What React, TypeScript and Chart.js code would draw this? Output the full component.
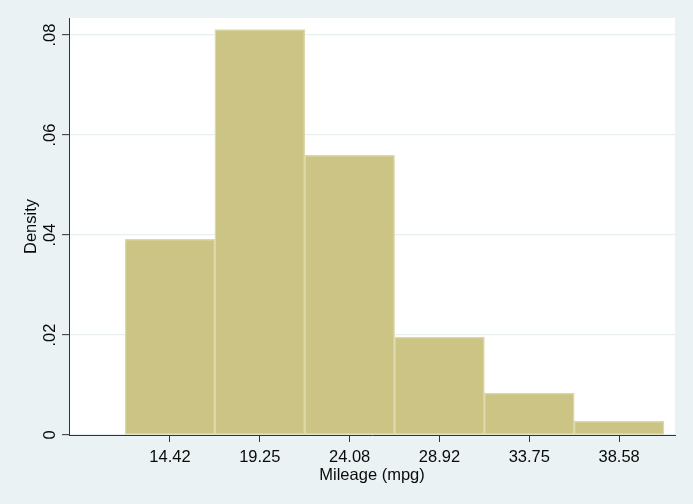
import React, { useEffect, useRef } from "react";
import { Chart, registerables } from "chart.js";

Chart.register(...registerables);

const binCenters = [14.4167, 19.25, 24.0833, 28.9167, 33.75, 38.5833];
const densities = [0.03914, 0.08108, 0.05592, 0.01957, 0.00839, 0.0028];
const xTickLabels = ["14.42", "19.25", "24.08", "28.92", "33.75", "38.58"];
const yTickValues = [0, 0.02, 0.04, 0.06, 0.08];
const yTickLabels = ["0", ".02", ".04", ".06", ".08"];
const xTitle = "Mileage (mpg)";
const yTitle = "Density";

const FONT = "'Liberation Sans', Arial, sans-serif";

const plotBg = {
  id: "plotBg",
  beforeDraw(chart: any) {
    const { ctx, chartArea } = chart;
    ctx.save();
    ctx.fillStyle = "#ffffff";
    ctx.fillRect(chartArea.left, chartArea.top, chartArea.right - chartArea.left, chartArea.bottom - chartArea.top);
    ctx.restore();
  },
};

export default function App() {
  const ref = useRef<HTMLCanvasElement | null>(null);
  useEffect(() => {
    if (!ref.current) return;
    const chart = new Chart(ref.current, {
      type: "bar",
      data: {
        datasets: [
          {
            data: binCenters.map((x, i) => ({ x, y: densities[i] })),
            backgroundColor: "#CBC484",
            borderColor: "#DCD8A9",
            borderWidth: 1.5,
            borderSkipped: false,
            barPercentage: 1,
            categoryPercentage: 1,
          },
        ],
      },
      options: {
        animation: false,
        responsive: true,
        maintainAspectRatio: false,
        layout: { padding: { top: 18, right: 18, left: 0, bottom: 0 } },
        plugins: { legend: { display: false }, tooltip: { enabled: false } },
        scales: {
          x: {
            type: "linear",
            min: 8.985,
            max: 41.59,
            offset: false,
            afterFit(scale: any) {
              scale.height = 69;
            },
            afterBuildTicks(scale: any) {
              scale.ticks = binCenters.map((v) => ({ value: v }));
            },
            grid: {
              offset: false,
              drawOnChartArea: false,
              drawTicks: true,
              tickLength: 7,
              tickColor: "#333333",
              tickWidth: 1,
            },
            border: { display: true, color: "#333333", width: 1 },
            ticks: {
              autoSkip: false,
              maxRotation: 0,
              minRotation: 0,
              padding: 5.5,
              color: "#0a0a0a",
              font: { family: FONT, size: 16.5 },
              callback: (_v: any, i: number) => xTickLabels[i],
            },
            title: {
              display: true,
              text: xTitle,
              color: "#0a0a0a",
              font: { family: FONT, size: 16.5 },
              padding: { top: 0, bottom: 19 },
            },
          },
          y: {
            type: "linear",
            min: 0,
            max: 0.0834,
            afterFit(scale: any) {
              scale.width = 69;
            },
            afterBuildTicks(scale: any) {
              scale.ticks = yTickValues.map((v) => ({ value: v }));
            },
            grid: {
              drawOnChartArea: true,
              color: "#E7EFF1",
              lineWidth: 1.3,
              drawTicks: true,
              tickLength: 7,
              tickColor: "#333333",
              tickWidth: 1,
            },
            border: { display: true, color: "#333333", width: 1 },
            ticks: {
              minRotation: 90,
              maxRotation: 90,
              crossAlign: "center",
              padding: 0,
              color: "#0a0a0a",
              font: { family: FONT, size: 16.5 },
              callback: (_v: any, i: number) => yTickLabels[i],
            },
            title: {
              display: true,
              text: yTitle,
              color: "#0a0a0a",
              font: { family: FONT, size: 16.5 },
              padding: { top: 21.5, bottom: 0 },
            },
          },
        },
      },
      plugins: [plotBg],
    });
    return () => chart.destroy();
  }, []);
  return (
    <div
      style={{
        position: "fixed",
        left: 0,
        top: 0,
        width: 693,
        height: 504,
        background: "#EAF2F3",
      }}
    >
      <canvas ref={ref} />
    </div>
  );
}
